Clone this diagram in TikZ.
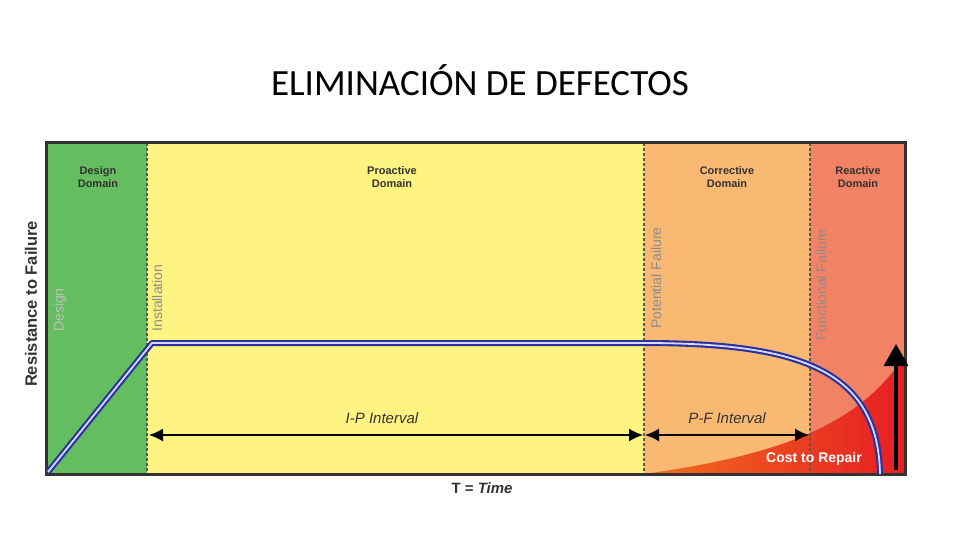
\documentclass[tikz,border=0pt]{standalone}
\usepackage{fontspec}
\setmainfont{Liberation Sans}
\newfontfamily\titlefont{Carlito}
\usetikzlibrary{arrows.meta}
\definecolor{dgreen}{RGB}{100,190,95}
\definecolor{pyellow}{RGB}{255,244,130}
\definecolor{porange}{RGB}{250,185,115}
\definecolor{psalmon}{RGB}{242,130,100}
\definecolor{cred}{RGB}{230,30,35}
\definecolor{corange}{RGB}{240,110,30}
\definecolor{lblue}{RGB}{40,50,160}
\tikzset{
 dom/.style={font=\bfseries\fontsize{11}{13}\selectfont,align=center,text=black!80},
 vlab/.style={rotate=90,text=black!45,font=\fontsize{14}{15}\selectfont},
 sep/.style={densely dashed,line width=1.3pt,black!65},
 iv/.style={{Latex[length=14pt,width=13pt]}-{Latex[length=14pt,width=13pt]},line width=1.6pt},
 ivl/.style={font=\itshape\fontsize{15}{16}\selectfont,text=black!80}
}
\begin{document}
\begin{tikzpicture}[x=1pt,y=-1pt]
\useasboundingbox (0,0) rectangle (960,540);
\node (title) at (480,80) {\titlefont\fontsize{37}{40}\selectfont ELIMINACIÓN DE DEFECTOS};
\fill[dgreen] (46,143) rectangle (147,474);
\fill[pyellow] (147,143) rectangle (644,474);
\fill[porange] (644,143) rectangle (810,474);
\fill[psalmon] (810,143) rectangle (905,474);
\shade[left color=corange,right color=cred,middle color=corange!50!cred] (644,474) .. controls (780,455) and (860,425) .. (905,355) -- (905,474) -- cycle;
\draw[sep] (147,143) -- (147,474);
\draw[sep] (644,143) -- (644,474);
\draw[sep] (810,143) -- (810,474);
\draw[line width=3pt,black!80] (46,143) rectangle (905,474);
\node[dom] (d1) at (98,177) {Design\\Domain};
\node[dom] (d2) at (392,177) {Proactive\\Domain};
\node[dom] (d3) at (727,177) {Corrective\\Domain};
\node[dom] (d4) at (858,177) {Reactive\\Domain};
\node[vlab,black!25] (l1) at (60,310) {Design};
\node[vlab] (l2) at (157,298) {Installation};
\node[vlab] (l3) at (656,278) {Potential Failure};
\node[vlab] (l4) at (821,285) {Functional Failure};
\node[rotate=90,font=\bfseries\fontsize{16.5}{18}\selectfont,text=black!80] (ya) at (31,304) {Resistance to Failure};
\node[font=\bfseries\fontsize{15}{16}\selectfont,text=black!80] (xa) at (482,488) {T = \textit{Time}};
\coordinate (c0) at (48,472);
\coordinate (c1) at (152,343);
\coordinate (c2) at (644,343);
\coordinate (c3) at (880,474);
\draw[lblue,line width=6pt,line join=round] (c0) -- (c1) -- (c2) .. controls (800,343) and (878,370) .. (c3);
\draw[white!85!blue,line width=1.8pt,line join=round] (c0) -- (c1) -- (c2) .. controls (800,343) and (878,370) .. (c3);
\coordinate (a1) at (149,435);
\coordinate (a2) at (643,435);
\coordinate (a3) at (645,435);
\coordinate (a4) at (809,435);
\draw[iv] (a1) -- (a2);
\draw[iv] (a3) -- (a4);
\node[ivl] (ip) at (382,418) {I-P Interval};
\node[ivl] (pf) at (727,418) {P-F Interval};
\node[font=\bfseries\fontsize{14}{15}\selectfont,text=white] (cr) at (814,459) {Cost to Repair};
\coordinate (b1) at (896,470);
\coordinate (b2) at (896,344);
\draw[-{Triangle[length=22pt,width=24pt]},line width=3.5pt] (b1) -- (b2);
\end{tikzpicture}
\end{document}
